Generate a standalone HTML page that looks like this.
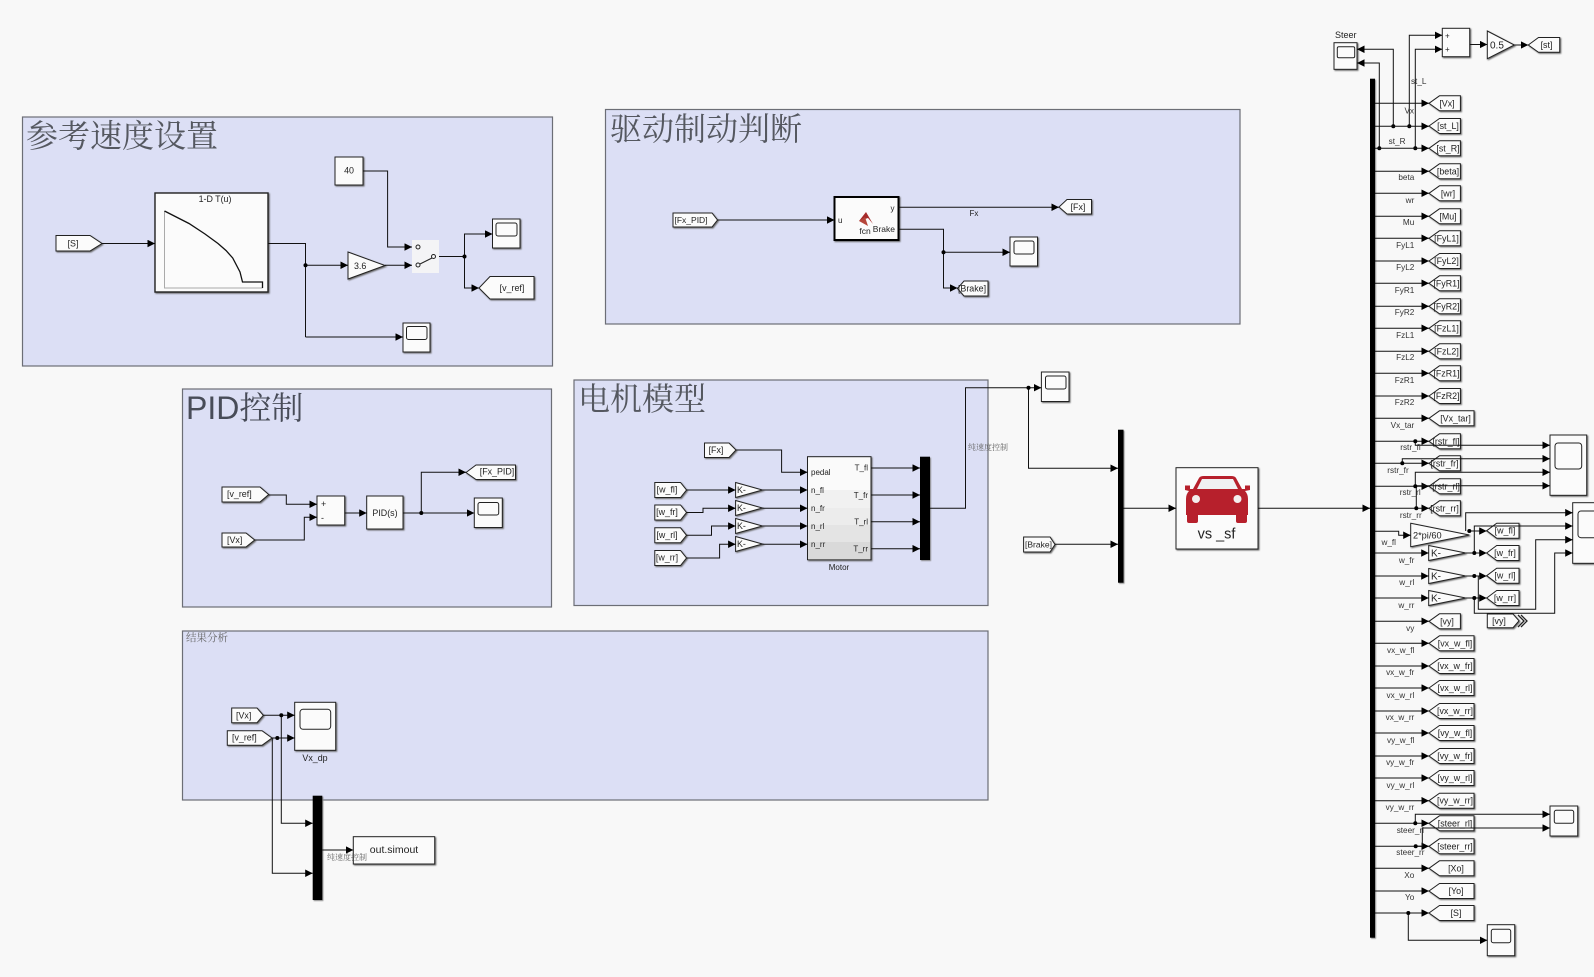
<!DOCTYPE html>
<html><head><meta charset="utf-8"><style>
html,body{margin:0;padding:0;background:#f8f8f8}
svg{display:block;filter:blur(.3px)}
text{font-family:"Liberation Sans","Noto Sans CJK SC",sans-serif;fill:#222;font-size:8.9px}
.p{fill:#dcdff5;stroke:#6c6e76;stroke-width:1.2}
.t{font-family:"Liberation Sans","Noto Serif CJK SC",serif;font-size:32px;fill:#555860}
.b{fill:#fbfbfb;stroke:#222;stroke-width:1;filter:drop-shadow(1px 1px .8px #666)}
.s{fill:none;stroke:#222;stroke-width:1}
.l{fill:none;stroke:#111;stroke-width:1}
.a{marker-end:url(#m)}
.m{fill:#000;filter:drop-shadow(1px 1px .6px #888)}
.c{text-anchor:middle}
.e{text-anchor:end}
.r{font-size:8.2px;text-anchor:end;fill:#333}
.cn{font-family:"Noto Serif CJK SC",serif;font-size:8px;fill:#666}
</style></head><body>
<svg width="1594" height="977" viewBox="0 0 1594 977" xmlns="http://www.w3.org/2000/svg">
<defs>
<marker id="m" markerUnits="userSpaceOnUse" markerWidth="8" markerHeight="8" refX="7.5" refY="3.75" orient="auto"><path d="M0 0L7.5 3.75L0 7.5Z" fill="#000"/></marker>
<path id="gs" d="M0 0L10.5-7.5H31.4V7.5H10.5Z"/>
<path id="gl" d="M0 0L10.5-7.5H45V7.5H10.5Z"/>
<path id="gw" d="M0 0L10-7.5H32.3V7.5H10Z"/>
<path id="k" d="M0-7.5L37 0L0 7.5Z"/>
<path id="km" d="M0-7.5L26.8 0L0 7.5Z"/>
<path id="fw" d="M0-7.5H25.7L31.7 0L25.7 7.5H0Z"/>
</defs>
<rect width="1594" height="977" fill="#f8f8f8"/>

<!-- panels -->
<rect class="p" x="22.5" y="117" width="530" height="249"/>
<rect class="p" x="605.5" y="109.5" width="634.5" height="214.5"/>
<rect class="p" x="182.5" y="389" width="369" height="218"/>
<rect class="p" x="574" y="380" width="414" height="225.5"/>
<rect class="p" x="182.5" y="631" width="805.5" height="169"/>
<text class="t" x="26" y="147">参考速度设置</text>
<text class="t" x="610" y="140">驱动制动判断</text>
<text class="t" x="186" y="419" style="fill:#484c58">PID控制</text>
<text class="t" x="578" y="410">电机模型</text>
<text x="186" y="641" style="font-family:'Noto Serif CJK SC',serif;font-size:10.5px;fill:#666">结果分析</text>

<!-- panel 1 -->
<path class="b" d="M56 235.5H90L102 243.5L90 251H56Z"/><text class="c" x="73" y="246.5">[S]</text>
<rect class="b" x="155" y="193" width="113" height="99" style="stroke-width:1.4"/>
<text class="c" x="215" y="202">1-D T(u)</text>
<path d="M164.500 211V288H262.500" fill="none" stroke="#aaa"/>
<path d="M164.500 211L189 223.500L205 234L218 243.500L226 250.500L232.700 258L240 272L242.500 282H262.500V288" fill="none" stroke="#111" stroke-width="1.3"/>
<rect class="b" x="335" y="157" width="28" height="28"/><text class="c" x="349" y="173.500">40</text>
<path class="b" d="M348 252L385 265.500L348 279Z"/><text x="354" y="269">3.6</text>
<rect x="412" y="240" width="27" height="33" fill="#f4f4f6"/>
<circle class="s" cx="418" cy="247" r="2" fill="#fff"/><circle class="s" cx="418" cy="265" r="2"/><circle class="s" cx="433.500" cy="256.500" r="2"/>
<path class="s" d="M420 264L432 258"/>
<rect class="b" x="492.500" y="219" width="27.500" height="29"/><rect class="s" x="496" y="223" width="21" height="13" rx="2"/>
<path class="b" d="M479 288L490 276.500H534V299H490Z"/><text class="c" x="512" y="291">[v_ref]</text>
<rect class="b" x="403" y="323" width="27" height="29"/><rect class="s" x="406.500" y="326.500" width="20.500" height="13" rx="2"/>

<!-- panel 2 -->
<path class="b" d="M673 213H712L717.500 220L712 227H673Z"/><text x="674.500" y="223" style="font-size:8.500px">[Fx_PID]</text>
<rect class="b" x="834.500" y="197" width="64" height="43" style="stroke:#000;stroke-width:2"/>
<text x="838" y="223" style="font-size:8px">u</text><text x="890.500" y="211" style="font-size:8px">y</text>
<text class="c" x="865" y="234" style="font-size:8.500px">fcn</text><text class="e" x="895" y="232" style="font-size:8.500px">Brake</text>
<path d="M859 221L866 212L873 224L868 218Z" fill="#a52a2a"/><path d="M859 221L865 217L868 226Z" fill="#b5453a"/>
<path class="b" d="M1059 207L1067 199.500H1091.500V214H1067Z"/><text class="c" x="1078" y="210">[Fx]</text>
<rect class="b" x="1010" y="237" width="27.500" height="29"/><rect class="s" x="1014" y="241" width="20" height="13" rx="2"/>
<path class="b" d="M957.500 288.500L964 281H988V296H964Z"/><text class="c" x="972" y="291.500">[Brake]</text>
<text class="c" x="974" y="216" style="font-size:8px">Fx</text>

<!-- panel 3 -->
<path class="b" d="M222 487H260L268.700 494.500L260 502H222Z"/><text x="227" y="497">[v_ref]</text>
<path class="b" d="M222 533H246L254.700 540L246 547H222Z"/><text x="227" y="543">[Vx]</text>
<rect class="b" x="317" y="496" width="27.700" height="29"/><text x="321" y="507">+</text><text x="321" y="521">-</text>
<rect class="b" x="366.700" y="496" width="36.300" height="33"/><text class="c" x="385" y="516">PID(s)</text>
<path class="b" d="M466 472.500L476 465H515.500V479.500H476Z"/><text class="c" x="497" y="474.500">[Fx_PID]</text>
<rect class="b" x="474.300" y="498" width="28" height="29.500"/><rect class="s" x="478" y="502.500" width="20.700" height="12.500" rx="2"/>

<!-- panel 4 -->
<path class="b" d="M704.500 443H729L736 450L729 457.500H704.500Z"/><text class="c" x="716" y="453">[Fx]</text>
<use href="#fw" class="b" x="654.800" y="490"/><text class="c" x="667" y="492.500">[w_fl]</text>
<use href="#fw" class="b" x="654.800" y="512.500"/><text class="c" x="667" y="515">[w_fr]</text>
<use href="#fw" class="b" x="654.800" y="535.300"/><text class="c" x="667" y="537.800">[w_rl]</text>
<use href="#fw" class="b" x="654.800" y="558"/><text class="c" x="667" y="560.500">[w_rr]</text>
<use href="#km" class="b" x="735.600" y="490"/><text x="737" y="493">K-</text>
<use href="#km" class="b" x="735.600" y="508"/><text x="737" y="511">K-</text>
<use href="#km" class="b" x="735.600" y="526"/><text x="737" y="529">K-</text>
<use href="#km" class="b" x="735.600" y="544"/><text x="737" y="547">K-</text>
<rect class="b" x="807.500" y="456.700" width="63.500" height="103" style="fill:#fafafa"/>
<rect x="808" y="490" width="62.500" height="18" fill="#f1f1f1"/>
<rect x="808" y="508" width="62.500" height="17" fill="#ececec"/>
<rect x="808" y="525" width="62.500" height="17" fill="#e4e4e4"/>
<rect x="808" y="542" width="62.500" height="17.300" fill="#d9d9d9"/>
<text x="811" y="475" style="font-size:8px">pedal</text><text x="811" y="493" style="font-size:8px">n_fl</text><text x="811" y="511" style="font-size:8px">n_fr</text><text x="811" y="529" style="font-size:8px">n_rl</text><text x="811" y="547" style="font-size:8px">n_rr</text>
<text class="e" x="868" y="470.500" style="font-size:8px">T_fl</text><text class="e" x="868" y="498" style="font-size:8px">T_fr</text><text class="e" x="868" y="524.500" style="font-size:8px">T_rl</text><text class="e" x="868" y="551.500" style="font-size:8px">T_rr</text>
<text class="c" x="839" y="570" style="font-size:8px">Motor</text>
<rect class="m" x="920" y="456.700" width="10" height="103.300"/>
<text class="cn" x="968" y="450">纯速度控制</text>

<!-- middle -->
<rect class="b" x="1041.400" y="372" width="27.600" height="29.500"/><rect class="s" x="1045.500" y="376" width="20.500" height="13" rx="2"/>
<rect class="m" x="1118" y="429.700" width="5.500" height="153"/>
<path class="b" d="M1023.600 537H1050L1055 544.500L1050 552H1023.600Z"/><text x="1025" y="547.500" style="font-size:8.500px">[Brake]</text>
<rect class="b" x="1176" y="467.700" width="82" height="81.300"/>
<path d="M1199 478Q1200 476 1204 476H1231Q1235 476 1236 478L1242 489H1245V485.500H1250V490L1245 491Q1248 494 1248 499V515H1247V521Q1247 523 1245 523H1238Q1236 523 1236 521V515H1198V521Q1198 523 1196 523H1189Q1187 523 1187 521V515H1186V499Q1186 494 1189 491L1185 490V485.500H1190V489H1193Z" fill="#b7202c"/>
<path d="M1202 479H1233L1238 489H1197Z" fill="#f0f0f2"/>
<circle cx="1196" cy="499" r="4" fill="#f3eeee"/><circle cx="1237.500" cy="499" r="4" fill="#f3eeee"/>
<text class="c" x="1216.500" y="538.500" style="font-size:14.500px">vs _sf</text>

<!-- panel 5 -->
<path class="b" d="M231.700 708H257L263.300 715.300L257 722.700H231.700Z"/><text x="236" y="718.500">[Vx]</text>
<path class="b" d="M227.300 730.700H262L272 738L262 745.300H227.300Z"/><text x="232" y="740.500">[v_ref]</text>
<rect class="b" x="294.700" y="702.300" width="41" height="48"/><rect class="s" x="300" y="709.300" width="30.700" height="20" rx="3"/>
<text class="c" x="315" y="761">Vx_dp</text>
<rect class="m" x="312.700" y="795.700" width="9.600" height="104.300"/>
<rect class="b" x="353.300" y="836.700" width="81.400" height="27.300"/>
<text class="c" x="394" y="853" style="font-size:10.500px">out.simout</text>
<text class="cn" x="327" y="860">纯速度控制</text>

<!-- right top -->
<text class="c" x="1345.700" y="38" style="font-size:9px">Steer</text>
<rect class="b" x="1334" y="42.700" width="23" height="26.600"/><rect class="s" x="1337.300" y="46.700" width="17.400" height="11" rx="1.500"/>
<rect class="m" x="1370" y="78.700" width="5" height="859"/>
<rect class="b" x="1442.300" y="28.300" width="27.400" height="28.400"/><text x="1445" y="38.500" style="font-size:8px">+</text><text x="1445" y="52" style="font-size:8px">+</text>
<path class="b" d="M1487.300 31L1514.300 45L1487.300 58.700Z"/><text x="1490" y="48.500" style="font-size:10px">0.5</text>
<path class="b" d="M1528.300 45L1538.500 37.500H1559.700V52.300H1538.500Z"/><text class="c" x="1546.500" y="48">[st]</text>

<!-- gotos -->
<g>
<use href="#gs" class="b" x="1429" y="103.300"/><text class="c" x="1447" y="106.300">[Vx]</text>
<use href="#gs" class="b" x="1429" y="126"/><text class="c" x="1448" y="129">[st_L]</text>
<use href="#gs" class="b" x="1429" y="148.300"/><text class="c" x="1448" y="151.300">[st_R]</text>
<use href="#gs" class="b" x="1429" y="171.300"/><text class="c" x="1448" y="174.300">[beta]</text>
<use href="#gs" class="b" x="1429" y="193.300"/><text class="c" x="1448" y="196.300">[wr]</text>
<use href="#gs" class="b" x="1429" y="216.300"/><text class="c" x="1448" y="219.300">[Mu]</text>
<use href="#gs" class="b" x="1429" y="238.300"/><text class="c" x="1446.500" y="241.300">[FyL1]</text>
<use href="#gs" class="b" x="1429" y="261"/><text class="c" x="1446.500" y="264">[FyL2]</text>
<use href="#gs" class="b" x="1429" y="283.300"/><text class="c" x="1446.500" y="286.300">[FyR1]</text>
<use href="#gs" class="b" x="1429" y="306.300"/><text class="c" x="1446.500" y="309.300">[FyR2]</text>
<use href="#gs" class="b" x="1429" y="328.300"/><text class="c" x="1446.500" y="331.300">[FzL1]</text>
<use href="#gs" class="b" x="1429" y="351.300"/><text class="c" x="1446.500" y="354.300">[FzL2]</text>
<use href="#gs" class="b" x="1429" y="373.300"/><text class="c" x="1446.500" y="376.300">[FzR1]</text>
<use href="#gs" class="b" x="1429" y="396"/><text class="c" x="1446.500" y="399">[FzR2]</text>
<use href="#gl" class="b" x="1429" y="418.300"/><text class="c" x="1455.500" y="421.300">[Vx_tar]</text>
<use href="#gs" class="b" x="1429" y="441.300"/><text class="c" x="1446" y="444.300">[rstr_fl]</text>
<use href="#gs" class="b" x="1429" y="463.300"/><text class="c" x="1444.500" y="466.300">[rstr_fr]</text>
<use href="#gs" class="b" x="1429" y="486.300"/><text class="c" x="1446" y="489.300">[rstr_rl]</text>
<use href="#gs" class="b" x="1429" y="508.300"/><text class="c" x="1444.500" y="511.300">[rstr_rr]</text>
<use href="#gw" class="b" x="1486.700" y="530.700"/><text class="c" x="1505" y="533.500">[w_fl]</text>
<use href="#gw" class="b" x="1486.700" y="553"/><text class="c" x="1505" y="556">[w_fr]</text>
<use href="#gw" class="b" x="1486.700" y="575.700"/><text class="c" x="1505" y="578.500">[w_rl]</text>
<use href="#gw" class="b" x="1486.700" y="598"/><text class="c" x="1505" y="601">[w_rr]</text>
<use href="#gs" class="b" x="1429" y="621.300"/><text class="c" x="1447" y="624.300">[vy]</text>
<use href="#gl" class="b" x="1429" y="643.300"/><text class="c" x="1455" y="646.300">[vx_w_fl]</text>
<use href="#gl" class="b" x="1429" y="666"/><text class="c" x="1455" y="669">[vx_w_fr]</text>
<use href="#gl" class="b" x="1429" y="688"/><text class="c" x="1455" y="691">[vx_w_rl]</text>
<use href="#gl" class="b" x="1429" y="711"/><text class="c" x="1455" y="714">[vx_w_rr]</text>
<use href="#gl" class="b" x="1429" y="733"/><text class="c" x="1455" y="736">[vy_w_fl]</text>
<use href="#gl" class="b" x="1429" y="756"/><text class="c" x="1455" y="759">[vy_w_fr]</text>
<use href="#gl" class="b" x="1429" y="778"/><text class="c" x="1455" y="781">[vy_w_rl]</text>
<use href="#gl" class="b" x="1429" y="800.700"/><text class="c" x="1455" y="803.700">[vy_w_rr]</text>
<use href="#gl" class="b" x="1429" y="823.300"/><text class="c" x="1455" y="826.300">[steer_rl]</text>
<use href="#gl" class="b" x="1429" y="846.300"/><text class="c" x="1455" y="849.300">[steer_rr]</text>
<use href="#gl" class="b" x="1429" y="868.300"/><text class="c" x="1456" y="871.300">[Xo]</text>
<use href="#gl" class="b" x="1429" y="891"/><text class="c" x="1456" y="894">[Yo]</text>
<use href="#gl" class="b" x="1429" y="913"/><text class="c" x="1456" y="916">[S]</text>
</g>

<!-- right gains / scopes -->
<path class="b" d="M1410.700 523.300L1469.300 535L1410.700 546.700Z"/><text x="1413" y="538.500" style="font-size:9.200px">2*pi/60</text>
<use href="#k" class="b" x="1428.700" y="553"/><text x="1431" y="556.500" style="font-size:10px">K-</text>
<use href="#k" class="b" x="1428.700" y="576"/><text x="1431" y="579.500" style="font-size:10px">K-</text>
<use href="#k" class="b" x="1428.700" y="598"/><text x="1431" y="601.500" style="font-size:10px">K-</text>
<path class="b" d="M1487.300 614H1513L1519 620.800L1513 627.700H1487.300Z"/><text class="c" x="1499" y="624">[vy]</text>
<path class="s" d="M1518 615L1524 621L1518 627M1521 615L1527 621L1521 627" style="stroke-width:1.300"/>
<rect class="b" x="1550" y="435" width="36.700" height="60.300"/><rect class="s" x="1555" y="443" width="26.700" height="26" rx="3"/>
<rect class="b" x="1572.700" y="502.700" width="30" height="60.600"/><rect class="s" x="1578" y="511" width="30" height="26.700" rx="3"/>
<rect class="b" x="1550" y="806" width="27.700" height="30"/><rect class="s" x="1554.300" y="810.300" width="19.400" height="13" rx="2"/>
<rect class="b" x="1487.300" y="924.700" width="27.400" height="31"/><rect class="s" x="1491.300" y="929.300" width="19.400" height="13.400" rx="2"/>

<!-- connectors: left and middle -->
<g class="lines">
<path class="l a" d="M102 243.500H155"/>
<path class="l" d="M268 243.500H305.500V337"/>
<path class="l a" d="M305.500 265.300H348"/>
<path class="l a" d="M305.500 337H403"/>
<path class="l a" d="M363 171H387.600V247H412"/>
<path class="l a" d="M385 265.300H412"/>
<path class="l" d="M439 256.500H464.500"/>
<path class="l a" d="M464.500 256.500V234H492.500"/>
<path class="l a" d="M464.500 256.500V288H479"/>
<circle cx="305.500" cy="265.300" r="2"/><circle cx="464.500" cy="256.500" r="2"/>

<path class="l a" d="M717.500 220H834.500"/>
<path class="l a" d="M898.500 207.300H1059"/>
<path class="l a" d="M898.500 229.300H943.500V288H957.500"/>
<path class="l a" d="M943.500 252.300H1010"/>
<circle cx="943.500" cy="252.300" r="2"/>

<path class="l a" d="M268.700 495H286.300V504.300H317"/>
<path class="l a" d="M254.700 540H304.300V517.300H317"/>
<path class="l a" d="M344.700 513H366.700"/>
<path class="l a" d="M403 513H474.300"/>
<path class="l a" d="M421.300 513V472.300H466"/>
<circle cx="421.300" cy="513" r="2"/>

<path class="l a" d="M736 450H781.600V472.300H807.500"/>
<path class="l a" d="M686.500 490H735.600"/>
<path class="l a" d="M686.500 512.500H703V508.300H735.600"/>
<path class="l a" d="M686.500 535.300H711.500V526H735.600"/>
<path class="l a" d="M686.500 558H719.600V544.300H735.600"/>
<path class="l a" d="M762.400 490H807.500"/><path class="l a" d="M762.400 508.300H807.500"/><path class="l a" d="M762.400 526H807.500"/><path class="l a" d="M762.400 544.300H807.500"/>
<path class="l a" d="M871 468H920"/><path class="l a" d="M871 495H920"/><path class="l a" d="M871 521.700H920"/><path class="l a" d="M871 548.700H920"/>
<path class="l a" d="M930 508.300H965.500V387.700H1041.400"/>
<path class="l a" d="M1028.500 387.700V468.300H1118"/>
<circle cx="1028.500" cy="387.700" r="2"/>
<path class="l a" d="M1055 544.300H1118"/>
<path class="l a" d="M1123.500 508.300H1176"/>
<path class="l a" d="M1258 508.300H1370"/>

<path class="l a" d="M263.300 715.300H294.700"/>
<path class="l a" d="M272 738H294.700"/>
<path class="l a" d="M281.300 715.300V823.300H312.700"/>
<path class="l a" d="M272.300 738V873.300H312.700"/>
<path class="l a" d="M322.300 850H353.300"/>
<circle cx="281.300" cy="715.300" r="2"/><circle cx="277.300" cy="738" r="2"/>

<!-- connectors: right bus -->
<path class="l a" d="M1393.300 126.300V49.300H1357"/>
<path class="l a" d="M1379.300 148.300V63H1357"/>
<path class="l a" d="M1409.300 126.300V35.300H1442.300"/>
<path class="l a" d="M1415.300 148.300V49.300H1442.300"/>
<path class="l a" d="M1469.700 44.500H1487.300"/>
<path class="l a" d="M1514.300 45H1528.300"/>
<circle cx="1393.300" cy="126.300" r="2"/><circle cx="1409.300" cy="126.300" r="2"/><circle cx="1379.300" cy="148.300" r="2"/><circle cx="1415.300" cy="148.300" r="2"/>
<path class="l a" d="M1375 103.300H1429"/><path class="l a" d="M1375 126.300H1429"/><path class="l a" d="M1375 148.300H1429"/><path class="l a" d="M1375 171.300H1429"/>
<path class="l a" d="M1375 193.300H1429"/><path class="l a" d="M1375 216.300H1429"/><path class="l a" d="M1375 238.300H1429"/><path class="l a" d="M1375 261H1429"/>
<path class="l a" d="M1375 283.300H1429"/><path class="l a" d="M1375 306.300H1429"/><path class="l a" d="M1375 328.300H1429"/><path class="l a" d="M1375 351.300H1429"/>
<path class="l a" d="M1375 373.300H1429"/><path class="l a" d="M1375 396H1429"/><path class="l a" d="M1375 418.300H1429"/><path class="l a" d="M1375 441.300H1429"/>
<path class="l a" d="M1375 463.300H1429"/><path class="l a" d="M1375 486.300H1429"/><path class="l a" d="M1375 508.300H1429"/>
<path class="l a" d="M1375 531.300H1398.700V535.300H1410.700"/>
<path class="l a" d="M1375 553H1428.700"/><path class="l a" d="M1375 576H1428.700"/><path class="l a" d="M1375 598H1428.700"/>
<path class="l a" d="M1375 621.300H1429"/><path class="l a" d="M1375 643.300H1429"/><path class="l a" d="M1375 666H1429"/><path class="l a" d="M1375 688H1429"/>
<path class="l a" d="M1375 711H1429"/><path class="l a" d="M1375 733H1429"/><path class="l a" d="M1375 756H1429"/><path class="l a" d="M1375 778H1429"/>
<path class="l a" d="M1375 800.700H1429"/><path class="l a" d="M1375 823.300H1429"/><path class="l a" d="M1375 846.300H1429"/><path class="l a" d="M1375 868.300H1429"/>
<path class="l a" d="M1375 891H1429"/><path class="l a" d="M1375 913H1429"/>
<path class="l a" d="M1415.300 441.300V445.300H1550"/>
<path class="l a" d="M1402.300 463.300V458.700H1550"/>
<path class="l a" d="M1415.300 486.300V472.300H1550"/>
<path class="l a" d="M1416.300 508.300V485.700H1550"/>
<circle cx="1415.300" cy="441.300" r="2"/><circle cx="1402.300" cy="463.300" r="2"/><circle cx="1415.300" cy="486.300" r="2"/><circle cx="1416.300" cy="508.300" r="2"/>
<path class="l a" d="M1469.300 531H1486.700"/>
<path class="l a" d="M1465.700 553H1486.700"/><path class="l a" d="M1465.700 576H1486.700"/><path class="l a" d="M1465.700 598H1486.700"/>
<path class="l a" d="M1465.700 531V512.700H1572.700"/>
<path class="l a" d="M1474.300 553V526H1572.700"/>
<path class="l a" d="M1478.300 576V609.300H1535.700V539.700H1572.700"/>
<path class="l a" d="M1474.300 598V613.300H1554.700V553H1572.700"/>
<circle cx="1469.300" cy="531" r="2"/><circle cx="1474.300" cy="553" r="2"/><circle cx="1474.300" cy="576" r="2"/><circle cx="1474.300" cy="598" r="2"/>
<path class="l a" d="M1415.300 823.300V814.300H1550"/>
<path class="l a" d="M1415.700 846.300H1422.300V828H1550"/>
<circle cx="1415.300" cy="823.300" r="2"/><circle cx="1415.700" cy="846.300" r="2"/>
<path class="l a" d="M1408.300 913V940.300H1487.300"/>
<circle cx="1408.300" cy="913" r="2"/>
</g>

<!-- bus signal labels -->
<text class="r c" x="1418.700" y="84" style="text-anchor:middle">st_L</text>
<text class="r" x="1414" y="113.500">Vx</text>
<text class="r" x="1405.500" y="144">st_R</text>
<text class="r" x="1414.300" y="180">beta</text>
<text class="r" x="1414.300" y="203">wr</text>
<text class="r" x="1414.300" y="225">Mu</text>
<text class="r" x="1414.300" y="248">FyL1</text>
<text class="r" x="1414.300" y="270">FyL2</text>
<text class="r" x="1414.300" y="293">FyR1</text>
<text class="r" x="1414.300" y="315">FyR2</text>
<text class="r" x="1414.300" y="338">FzL1</text>
<text class="r" x="1414.300" y="360">FzL2</text>
<text class="r" x="1414.300" y="383">FzR1</text>
<text class="r" x="1414.300" y="405">FzR2</text>
<text class="r" x="1414.300" y="428">Vx_tar</text>
<text class="r" x="1420.700" y="450">rstr_fl</text>
<text class="r" x="1408.700" y="473">rstr_fr</text>
<text class="r" x="1420.700" y="495">rstr_rl</text>
<text class="r" x="1421.700" y="518">rstr_rr</text>
<text class="r" x="1396" y="545">w_fl</text>
<text class="r" x="1414.300" y="563">w_fr</text>
<text class="r" x="1414.300" y="585">w_rl</text>
<text class="r" x="1414.300" y="608">w_rr</text>
<text class="r" x="1414.300" y="631">vy</text>
<text class="r" x="1414.300" y="653">vx_w_fl</text>
<text class="r" x="1414.300" y="675">vx_w_fr</text>
<text class="r" x="1414.300" y="698">vx_w_rl</text>
<text class="r" x="1414.300" y="720">vx_w_rr</text>
<text class="r" x="1414.300" y="743">vy_w_fl</text>
<text class="r" x="1414.300" y="765">vy_w_fr</text>
<text class="r" x="1414.300" y="788">vy_w_rl</text>
<text class="r" x="1414.300" y="810">vy_w_rr</text>
<text class="r" x="1424" y="833">steer_rl</text>
<text class="r" x="1424.500" y="855">steer_rr</text>
<text class="r" x="1414.300" y="878">Xo</text>
<text class="r" x="1414.300" y="900">Yo</text>
</svg>
</body></html>
